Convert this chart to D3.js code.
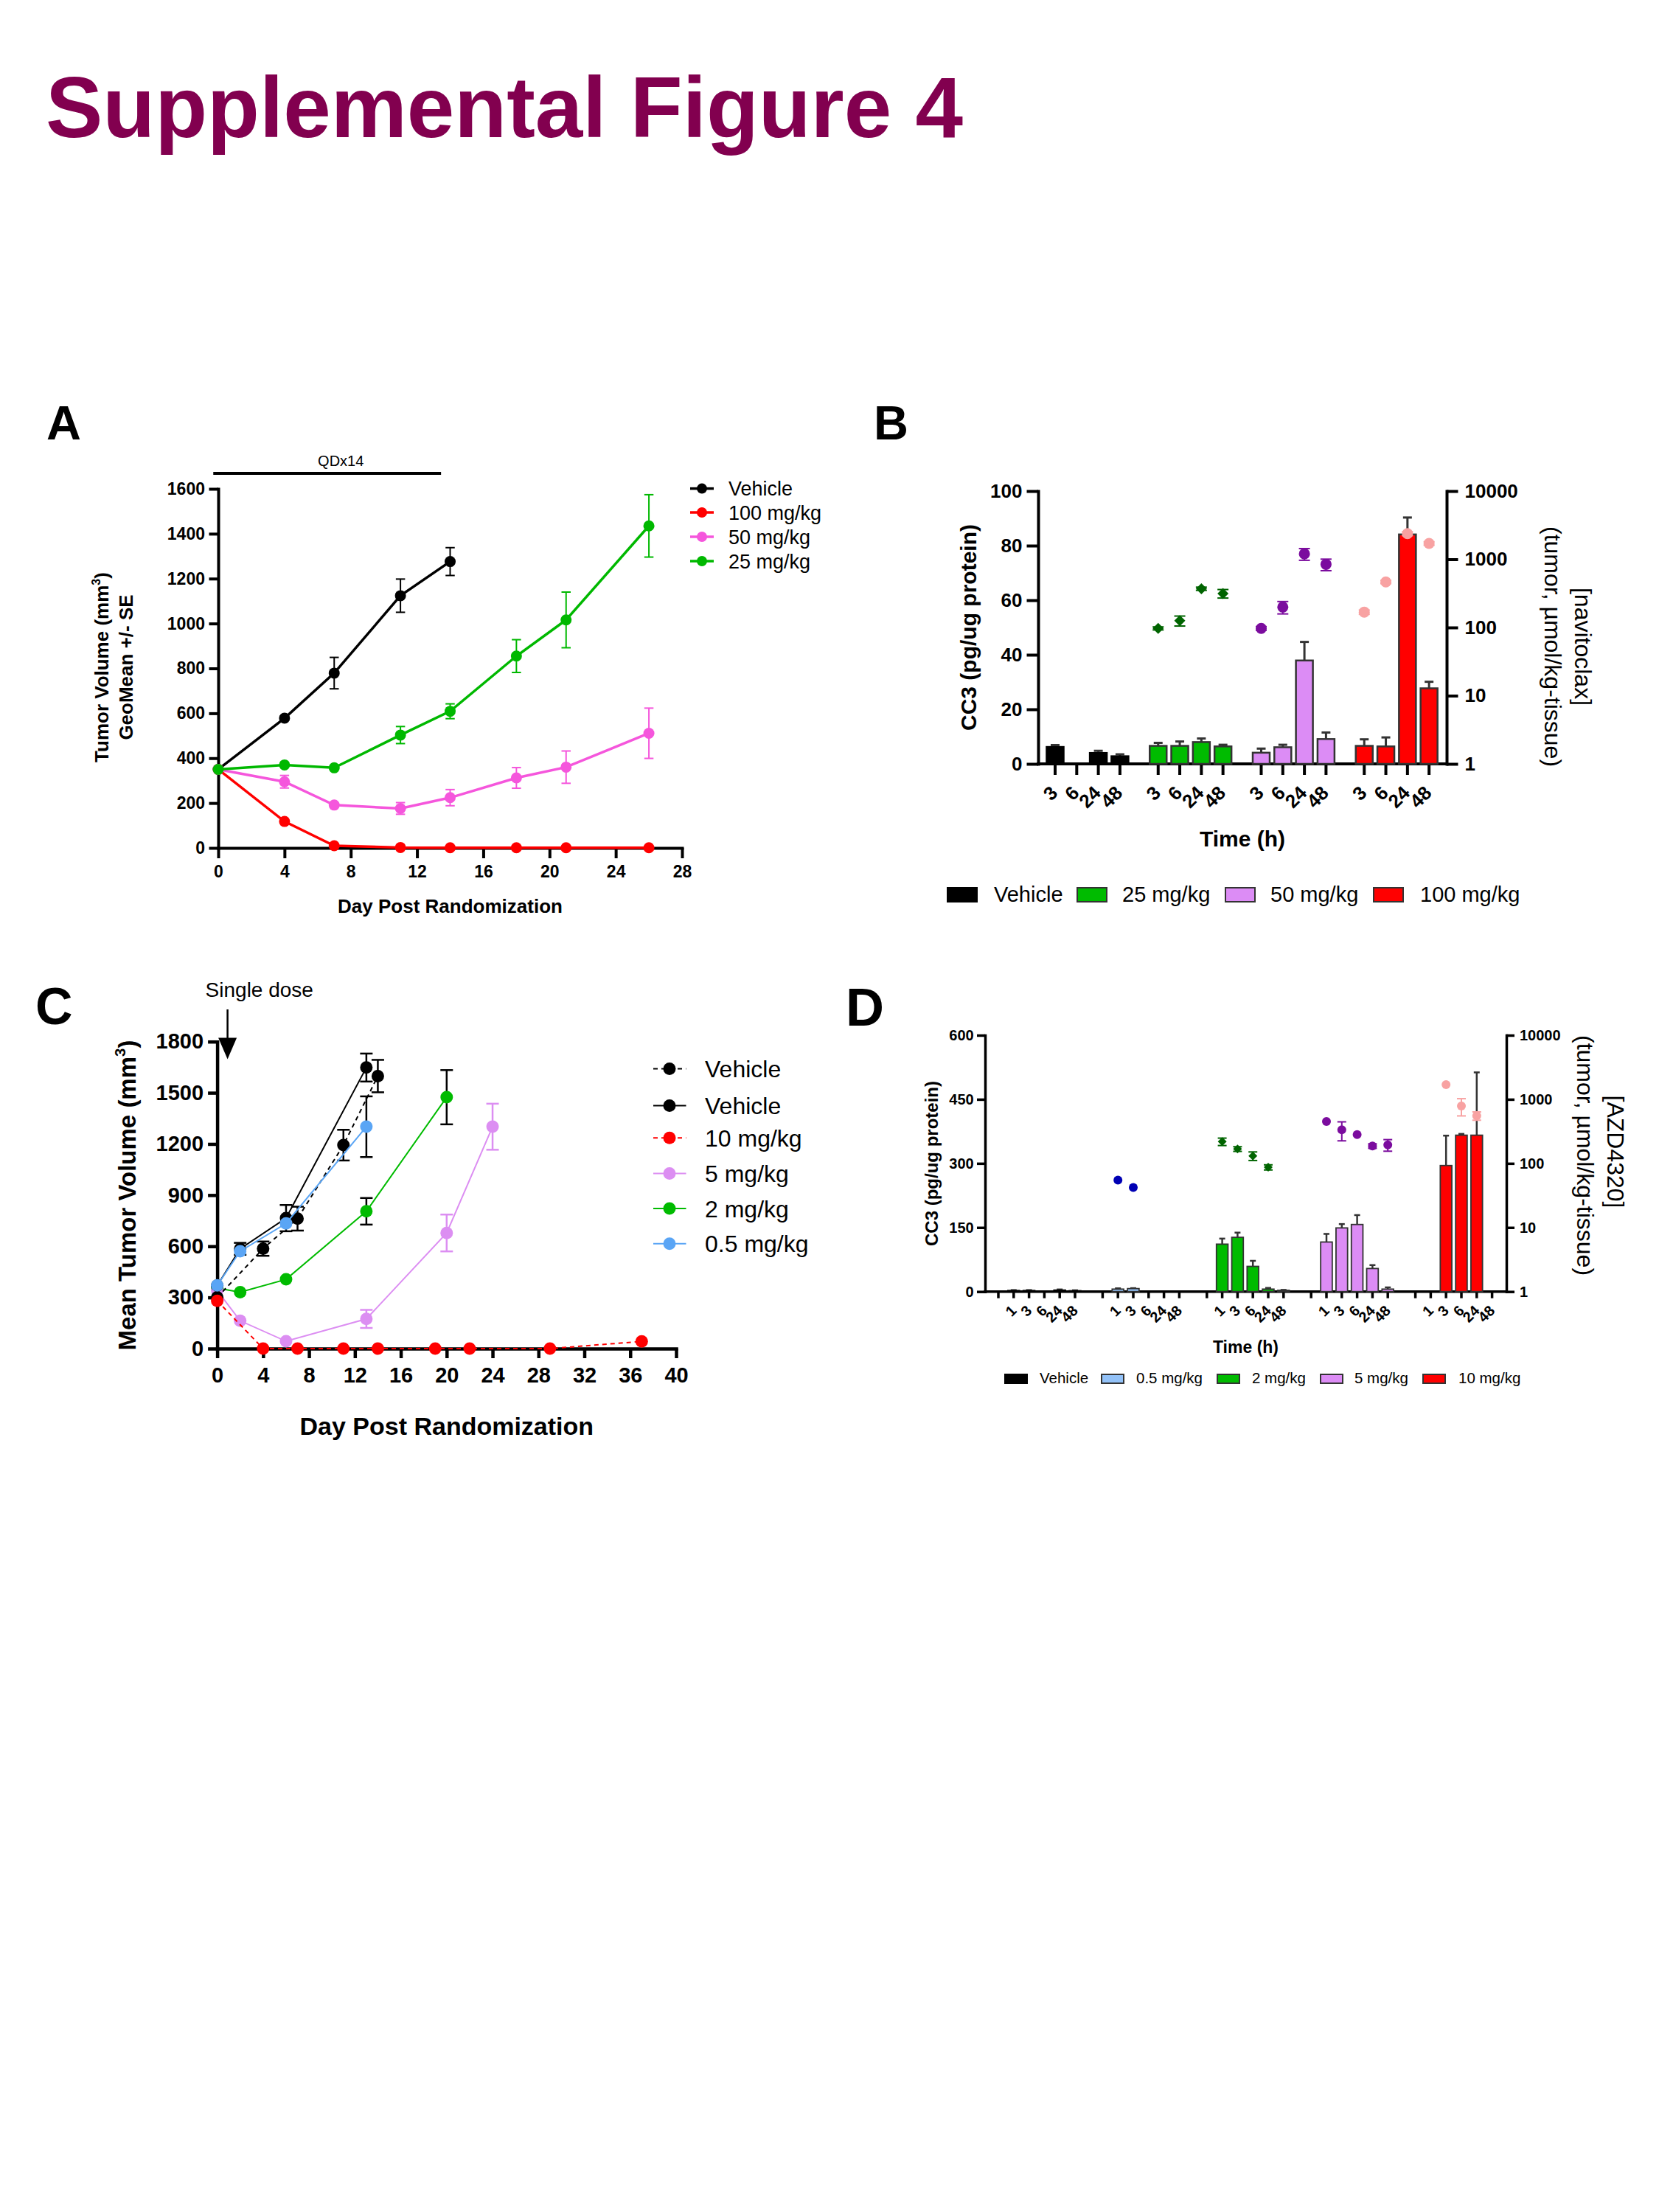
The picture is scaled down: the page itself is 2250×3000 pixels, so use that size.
<!DOCTYPE html>
<html>
<head>
<meta charset="utf-8">
<script src="https://cdn.jsdelivr.net/npm/d3@7"></script>
<style>
  body { margin: 0; background: #fff; }
  text { font-family: "Liberation Sans", Arial, Helvetica, sans-serif; }
</style>
</head>
<body>
<svg id="fig" width="2250" height="3000"></svg>
<script>
// ---------------- data: panel A (tumor volume, QDx14) ----------------
var aNames  = ["Vehicle", "100 mg/kg", "50 mg/kg", "25 mg/kg"];
var aColors = ["#000000", "#ff0000", "#f556dc", "#00b800"];
var aDaysVeh = [0, 4, 7, 11, 14];
var aDays    = [0, 4, 7, 11, 14, 18, 21, 26];
var aVehicle = [350, 578, 779, 1124, 1276];
var aVehicleSE = [0, 10, 70, 74, 62];
var a100 = [350, 118, 10, 2, 1, 1, 1, 1];
var a100SE = [0, 0, 0, 0, 0, 0, 0, 0];
var a50 = [350, 295, 191, 176, 224, 312, 360, 511];
var a50SE = [0, 28, 8, 26, 36, 46, 72, 112];
var a25 = [350, 370, 357, 503, 609, 855, 1016, 1435];
var a25SE = [0, 8, 6, 38, 33, 73, 124, 139];

// ---------------- data: panel B (CC3 bars + navitoclax) ----------------
var bGroups = ["Vehicle", "25 mg/kg", "50 mg/kg", "100 mg/kg"];
var bTimes  = ["3", "6", "24", "48"];
var bBarColors = ["#000000", "#00bb00", "#dc8cf5", "#ff0000"];
var bCC3 = [[6.2, null, 4.0, 2.8], [6.6, 6.6, 8.0, 6.4], [4.1, 6.1, 37.9, 9.1], [6.6, 6.4, 84.1, 27.7]];
var bCC3SE = [[0.7, null, 0.8, 0.7], [1.1, 1.6, 1.3, 0.6], [1.5, 0.9, 6.8, 2.4], [2.4, 3.3, 6.2, 2.4]];
var bConc = [null, [97, 126, 370, 315], [97, 199, 1200, 842], [168, 465, 2378, 1707]];
var bConcSE = [null, [5, 21, 20, 45], [6, 41, 234, 162], [12, 25, 150, 100]];
var bConcColors = [null, "#006400", "#7b0c9e", "#f8a2a2"];
var bConcShape = [null, "diamond", "circle", "circle"];

// ---------------- data: panel C (single dose) ----------------
var cNames  = ["Vehicle", "Vehicle", "10 mg/kg", "5 mg/kg", "2 mg/kg", "0.5 mg/kg"];
var cColors = ["#000000", "#000000", "#ff0000", "#dc8ef2", "#00bb00", "#5aa5f5"];
var cDashed = [true, false, true, false, false, false];
var cDaysVehDash = [0, 4, 7, 11, 14];
var cVehDash   = [300, 586, 762, 1193, 1598];
var cVehDashSE = [0, 42, 70, 90, 95];
var cDaysVeh = [0, 2, 6, 13];
var cVeh     = [370, 585, 765, 1648];
var cVehSE   = [0, 35, 77, 82];
var cDays10 = [0, 4, 7, 11, 14, 19, 22, 29, 37];
var c10     = [280, 0, 0, 0, 0, 0, 0, 0, 42];
var cDays5 = [0, 2, 6, 13, 20, 24];
var c5     = [340, 163, 43, 174, 678, 1301];
var c5SE   = [0, 0, 0, 53, 108, 135];
var cDays2 = [0, 2, 6, 13, 20];
var c2     = [355, 331, 406, 805, 1474];
var c2SE   = [0, 0, 0, 78, 159];
var cDays05 = [0, 2, 6, 13];
var c05     = [371, 571, 734, 1301];
var c05SE   = [0, 0, 0, 178];
var cDoseDay = 0.9;

// ---------------- data: panel D (CC3 bars + AZD4320) ----------------
var dGroups = ["Vehicle", "0.5 mg/kg", "2 mg/kg", "5 mg/kg", "10 mg/kg"];
var dSlots  = ["", "1", "3", "6", "24", "48"];
var dBarColors = ["#000000", "#93c2f8", "#00bb00", "#dc8cf5", "#ff0000"];
// values for times 1, 3, 6, 24, 48 h
var dCC3 = [[2.5, 2.5, null, 3.5, 2], [5.8, 7, null, null, null], [111, 127, 59, 5.8, 3],
            [116, 149, 157, 54, 5.8], [null, 295, 366, 366, null]];
var dCC3SE = [[1, 1, null, 1.5, 1], [1.8, 1, null, null, null], [13, 11, 13, 2.8, 1],
              [19, 9, 22, 8, 4], [null, 70, 3, 147, null]];
var dConc = [null, [55, 42, null, null, null], [219, 168, 131, 87, null],
             [452, 335, 281, 187, 195], [null, 1700, 787, 554, null]];
var dConcSE = [null, [0, 0, null, null, null], [29, 14, 20, 8, null],
               [0, 110, 0, 15, 40], [null, 0, 236, 82, null]];
var dConcColors = [null, "#0000b4", "#006400", "#7b0c9e", "#f8a2a2"];
var dConcShape = [null, "circle", "diamond", "circle", "circle"];

// ---------------- helpers ----------------
var FONT = '"Liberation Sans", Arial, Helvetica, sans-serif';
var svg = d3.select("#fig");
svg.append("rect").attr("width", 2250).attr("height", 3000).attr("fill", "#fff");

function styleAxis(g, w, size) {
  g.attr("font-family", FONT).attr("font-size", size).attr("font-weight", "bold");
  g.selectAll("path.domain").attr("stroke", "#000").attr("stroke-width", w).attr("stroke-linecap", "square");
  g.selectAll(".tick line").attr("stroke", "#000").attr("stroke-width", w);
  g.selectAll(".tick text").attr("fill", "#000");
}

function vErr(g, x, y1, y2, cap, color, w, both) {
  g.append("line").attr("x1", x).attr("x2", x).attr("y1", y1).attr("y2", y2)
    .attr("stroke", color).attr("stroke-width", w);
  g.append("line").attr("x1", x - cap / 2).attr("x2", x + cap / 2).attr("y1", y1).attr("y2", y1)
    .attr("stroke", color).attr("stroke-width", w);
  if (both) {
    g.append("line").attr("x1", x - cap / 2).attr("x2", x + cap / 2).attr("y1", y2).attr("y2", y2)
      .attr("stroke", color).attr("stroke-width", w);
  }
}

function drawSeries(g, x, y, s) {
  var pts = s.days.map(function (d, i) { return { d: d, v: s.vals[i], e: s.se ? s.se[i] : 0 }; });
  g.append("path").datum(pts)
    .attr("fill", "none").attr("stroke", s.color).attr("stroke-width", s.lw)
    .attr("stroke-dasharray", s.dash ? "6,5" : null)
    .attr("d", d3.line().x(function (p) { return x(p.d); }).y(function (p) { return y(p.v); }));
  pts.forEach(function (p) {
    if (p.e > 0) vErr(g, x(p.d), y(p.v + p.e), y(Math.max(0, p.v - p.e)), s.cap, s.errColor || s.color, s.ew, true);
  });
  g.selectAll(null).data(pts).enter().append("circle")
    .attr("cx", function (p) { return x(p.d); }).attr("cy", function (p) { return y(p.v); })
    .attr("r", s.r).attr("fill", s.color);
}

function panelLetter(txt, x, y, size) {
  svg.append("text").attr("x", x).attr("y", y).attr("font-size", size).attr("font-weight", "bold")
    .attr("fill", "#000").text(txt);
}

function rotText(x, y, angle, size, weight, txt, sup) {
  var t = svg.append("text").attr("transform", "translate(" + x + "," + y + ") rotate(" + angle + ")")
    .attr("text-anchor", "middle").attr("font-size", size).attr("font-weight", weight).attr("fill", "#000");
  if (sup) {
    t.append("tspan").text(txt);
    t.append("tspan").attr("dy", -size * 0.42).attr("font-size", size * 0.62).text(sup);
    t.append("tspan").attr("dy", size * 0.42).text(")");
  } else {
    t.text(txt);
  }
  return t;
}

function marker(g, shape, cx, cy, r, color) {
  if (shape === "diamond") {
    g.append("path").attr("d", d3.symbol(d3.symbolSquare, r * r * 2)())
      .attr("transform", "translate(" + cx + "," + cy + ") rotate(45)").attr("fill", color);
  } else {
    g.append("circle").attr("cx", cx).attr("cy", cy).attr("r", r).attr("fill", color);
  }
}

var plain = d3.format("d");

// ---------------- title ----------------
svg.append("text").attr("x", 62).attr("y", 186).attr("font-size", 116).attr("font-weight", "bold")
  .attr("fill", "#82004f").text("Supplemental Figure 4");

// ================= Panel A =================
(function () {
  var x = d3.scaleLinear().domain([0, 28]).range([296, 925]);
  var y = d3.scaleLinear().domain([0, 1600]).range([1150, 663]);
  var g = svg.append("g");
  panelLetter("A", 63, 596, 65);

  var gx = g.append("g").attr("transform", "translate(0,1150)")
    .call(d3.axisBottom(x).tickValues(d3.range(0, 29, 4)).tickFormat(plain).tickSize(14).tickSizeOuter(0).tickPadding(10));
  styleAxis(gx, 4, 23);
  var gy = g.append("g").attr("transform", "translate(296,0)")
    .call(d3.axisLeft(y).tickValues(d3.range(0, 1601, 200)).tickFormat(plain).tickSize(12.5).tickSizeOuter(0).tickPadding(5.5));
  styleAxis(gy, 4, 23);

  var common = { lw: 3.5, r: 7.5, cap: 12.5, ew: 2 };
  var series = [
    { days: aDaysVeh, vals: aVehicle, se: aVehicleSE, color: aColors[0] },
    { days: aDays, vals: a100, se: a100SE, color: aColors[1] },
    { days: aDays, vals: a50, se: a50SE, color: aColors[2] },
    { days: aDays, vals: a25, se: a25SE, color: aColors[3] }
  ];
  series.forEach(function (s) { drawSeries(g, x, y, Object.assign({}, common, s)); });

  // QDx14 dosing bar
  g.append("line").attr("x1", x(-0.3)).attr("x2", x(13.45)).attr("y1", 642).attr("y2", 642)
    .attr("stroke", "#000").attr("stroke-width", 4);
  g.append("text").attr("x", x(7.4)).attr("y", 632).attr("text-anchor", "middle")
    .attr("font-size", 20).text("QDx14");

  // axis titles
  g.append("text").attr("x", (x(0) + x(28)) / 2).attr("y", 1238).attr("text-anchor", "middle")
    .attr("font-size", 26).attr("font-weight", "bold").text("Day Post Randomization");
  rotText(147, 905, -90, 26, "bold", "Tumor Volume (mm", "3");
  rotText(180, 905, -90, 26, "bold", "GeoMean +/- SE");

  // legend
  var ly = [662.6, 695, 728, 761];
  aNames.forEach(function (n, i) {
    g.append("line").attr("x1", 936).attr("x2", 968).attr("y1", ly[i]).attr("y2", ly[i])
      .attr("stroke", aColors[i]).attr("stroke-width", 3.5);
    g.append("circle").attr("cx", 952).attr("cy", ly[i]).attr("r", 7).attr("fill", aColors[i]);
    g.append("text").attr("x", 988).attr("y", ly[i]).attr("dy", "0.36em").attr("font-size", 27).text(n);
  });
})();

// ================= bar + scatter panels (B, D) =================
function barPanel(cfg) {
  var g = svg.append("g");
  var x0 = d3.scaleBand().domain(cfg.groups).range(cfg.xRange);
  var xp = d3.scalePoint().domain(cfg.slots).range([cfg.slotStart, cfg.slotStart + (cfg.slots.length - 1) * cfg.slotStep]);
  var yl = d3.scaleLinear().domain(cfg.leftDomain).range([cfg.y0, cfg.y1]);
  var yr = d3.scaleLog().domain([1, 10000]).range([cfg.y0, cfg.y1]);
  var L = cfg.axisL, R = cfg.axisR;

  // x axis line and ticks
  g.append("line").attr("x1", L).attr("x2", R).attr("y1", cfg.y0).attr("y2", cfg.y0)
    .attr("stroke", "#000").attr("stroke-width", cfg.aw).attr("stroke-linecap", "square");
  cfg.groups.forEach(function (grp) {
    cfg.slots.forEach(function (s) {
      var cx = x0(grp) + xp(s);
      g.append("line").attr("x1", cx).attr("x2", cx).attr("y1", cfg.y0).attr("y2", cfg.y0 + cfg.xTick)
        .attr("stroke", "#000").attr("stroke-width", cfg.aw);
      if (s !== "") {
        g.append("text").attr("transform", "translate(" + (cx + cfg.lblDx) + "," + cfg.lblY + ") rotate(-45)")
          .attr("text-anchor", "end").attr("font-size", cfg.tickFont).attr("font-weight", "bold").text(s);
      }
    });
  });

  var gl = g.append("g").attr("transform", "translate(" + L + ",0)")
    .call(d3.axisLeft(yl).tickValues(cfg.leftTicks).tickFormat(plain).tickSize(cfg.yTick).tickSizeOuter(0).tickPadding(cfg.padL));
  styleAxis(gl, cfg.aw, cfg.tickFont);
  var gr = g.append("g").attr("transform", "translate(" + R + ",0)")
    .call(d3.axisRight(yr).tickValues([1, 10, 100, 1000, 10000]).tickFormat(plain)
      .tickSize(cfg.yTick).tickSizeOuter(0).tickPadding(cfg.padR));
  styleAxis(gr, cfg.aw, cfg.tickFont);

  var dataSlots = cfg.slots.filter(function (s) { return s !== ""; });
  // bars
  cfg.groups.forEach(function (grp, gi) {
    dataSlots.forEach(function (s, ti) {
      var v = cfg.cc3[gi][ti];
      if (v == null) return;
      var cx = x0(grp) + xp(s);
      var e = cfg.cc3SE[gi][ti];
      if (e) vErr(g, cx, yl(v + e), yl(v), cfg.barCap, "#333", cfg.barEw, false);
      g.append("rect").attr("x", cx - cfg.barW / 2).attr("width", cfg.barW)
        .attr("y", yl(v)).attr("height", yl(0) - yl(v))
        .attr("fill", cfg.barColors[gi]).attr("stroke", gi === 0 ? "#000" : "#333").attr("stroke-width", cfg.barSw);
    });
  });
  // concentration markers (right log axis)
  cfg.groups.forEach(function (grp, gi) {
    if (!cfg.conc[gi]) return;
    dataSlots.forEach(function (s, ti) {
      var v = cfg.conc[gi][ti];
      if (v == null) return;
      var cx = x0(grp) + xp(s);
      var e = cfg.concSE[gi][ti];
      if (e) vErr(g, cx, yr(v + e), yr(Math.max(1, v - e)), cfg.mCap, cfg.concColors[gi], 2, true);
      marker(g, cfg.concShape[gi], cx, yr(v), cfg.mR, cfg.concColors[gi]);
    });
  });

  g.append("text").attr("x", (L + R) / 2).attr("y", cfg.timeY).attr("text-anchor", "middle")
    .attr("font-size", cfg.timeFont).attr("font-weight", "bold").text("Time (h)");

  // legend
  cfg.groups.forEach(function (grp, gi) {
    g.append("rect").attr("x", cfg.legSw[gi]).attr("y", cfg.legY).attr("width", cfg.legW).attr("height", cfg.legH)
      .attr("fill", cfg.barColors[gi]).attr("stroke", gi === 0 ? "#000" : "#333").attr("stroke-width", 2);
    g.append("text").attr("x", cfg.legTx[gi]).attr("y", cfg.legY + cfg.legH).attr("font-size", cfg.legFont).text(grp);
  });
}

// ================= Panel B =================
panelLetter("B", 1185, 596, 65);
barPanel({
  groups: bGroups, slots: bTimes, xRange: [1401, 1960], slotStart: 30, slotStep: 29.3,
  leftDomain: [0, 100], leftTicks: d3.range(0, 101, 20), y0: 1036, y1: 666,
  axisL: 1408, axisR: 1962, aw: 4, xTick: 15, yTick: 15.5, padL: 6, padR: 9,
  tickFont: 26, lblDx: 5, lblY: 1077,
  cc3: bCC3, cc3SE: bCC3SE, barColors: bBarColors, barW: 23, barCap: 12, barEw: 3, barSw: 2.5,
  conc: bConc, concSE: bConcSE, concColors: bConcColors, concShape: bConcShape, mR: 7.5, mCap: 15,
  timeY: 1148, timeFont: 30,
  legY: 1204, legW: 40, legH: 19, legSw: [1285, 1461, 1662, 1863], legTx: [1348, 1522, 1723, 1926], legFont: 29
});
rotText(1324, 851, -90, 30, "bold", "CC3 (pg/ug protein)");
rotText(2136, 877, 90, 32, "normal", "[navitoclax]");
rotText(2095, 877, 90, 32, "normal", "(tumor, \u00b5mol/kg-tissue)");

// ================= Panel C =================
(function () {
  var x = d3.scaleLinear().domain([0, 40]).range([294.6, 917]);
  var y = d3.scaleLinear().domain([0, 1800]).range([1829, 1412.7]);
  var g = svg.append("g");
  panelLetter("C", 48, 1389, 70);

  var gx = g.append("g").attr("transform", "translate(0,1829)")
    .call(d3.axisBottom(x).tickValues(d3.range(0, 41, 4)).tickFormat(plain).tickSize(13).tickSizeOuter(0).tickPadding(12));
  styleAxis(gx, 4.5, 29);
  var gy = g.append("g").attr("transform", "translate(294.6,0)")
    .call(d3.axisLeft(y).tickValues(d3.range(0, 1801, 300)).tickFormat(plain).tickSize(12.5).tickSizeOuter(0).tickPadding(6));
  styleAxis(gy, 4.5, 29);

  var common = { lw: 2, r: 8.5, cap: 17, ew: 2.5 };
  var series = [
    { days: cDays2, vals: c2, se: c2SE, color: cColors[4], errColor: "#000" },
    { days: cDays5, vals: c5, se: c5SE, color: cColors[3] },
    { days: cDaysVehDash, vals: cVehDash, se: cVehDashSE, color: cColors[0], dash: true },
    { days: cDaysVeh, vals: cVeh, se: cVehSE, color: cColors[1] },
    { days: cDays05, vals: c05, se: c05SE, color: cColors[5], errColor: "#000" },
    { days: cDays10, vals: c10, se: null, color: cColors[2], dash: true }
  ];
  series.forEach(function (s) { drawSeries(g, x, y, Object.assign({}, common, s)); });

  // single dose arrow
  var ax = x(cDoseDay);
  g.append("text").attr("x", 278.6).attr("y", 1352).attr("font-size", 28).text("Single dose");
  g.append("line").attr("x1", ax).attr("x2", ax).attr("y1", 1369).attr("y2", 1410)
    .attr("stroke", "#000").attr("stroke-width", 2.5);
  g.append("path").attr("d", "M" + (ax - 12.5) + ",1407.5L" + (ax + 12.5) + ",1407.5L" + ax + ",1436.6Z")
    .attr("fill", "#000");

  g.append("text").attr("x", (x(0) + x(40)) / 2).attr("y", 1946).attr("text-anchor", "middle")
    .attr("font-size", 34).attr("font-weight", "bold").text("Day Post Randomization");
  rotText(184, 1621, -90, 33, "bold", "Mean Tumor Volume (mm", "3");

  var ly = [1449.6, 1499.5, 1543.3, 1591.4, 1639.1, 1686.8];
  cNames.forEach(function (n, i) {
    g.append("line").attr("x1", 886).attr("x2", 930.5).attr("y1", ly[i]).attr("y2", ly[i])
      .attr("stroke", cColors[i]).attr("stroke-width", 2).attr("stroke-dasharray", cDashed[i] ? "6,5" : null);
    g.append("circle").attr("cx", 908).attr("cy", ly[i]).attr("r", 8.5).attr("fill", cColors[i]);
    g.append("text").attr("x", 956).attr("y", ly[i]).attr("dy", "0.36em").attr("font-size", 32).text(n);
  });
})();

// ================= Panel D =================
panelLetter("D", 1147, 1391, 72);
barPanel({
  groups: dGroups, slots: dSlots, xRange: [1336, 2043], slotStart: 18, slotStep: 20.8,
  leftDomain: [0, 600], leftTicks: d3.range(0, 601, 150), y0: 1751.7, y1: 1404,
  axisL: 1336, axisR: 2043, aw: 3.5, xTick: 9, yTick: 11, padL: 4.3, padR: 7,
  tickFont: 20, lblDx: 5, lblY: 1779,
  cc3: dCC3, cc3SE: dCC3SE, barColors: dBarColors, barW: 15.7, barCap: 8, barEw: 2.5, barSw: 1.8,
  conc: dConc, concSE: dConcSE, concColors: dConcColors, concShape: dConcShape, mR: 6, mCap: 12,
  timeY: 1835, timeFont: 23,
  legY: 1864, legW: 30, legH: 12, legSw: [1363, 1494, 1651, 1791, 1930], legTx: [1410, 1541, 1698, 1837, 1978], legFont: 20.5
});
rotText(1272, 1578, -90, 24, "bold", "CC3 (pg/ug protein)");
rotText(2180, 1562, 90, 32, "normal", "[AZD4320]");
rotText(2139, 1567, 90, 32, "normal", "(tumor, \u00b5mol/kg-tissue)");
</script>
</body>
</html>
